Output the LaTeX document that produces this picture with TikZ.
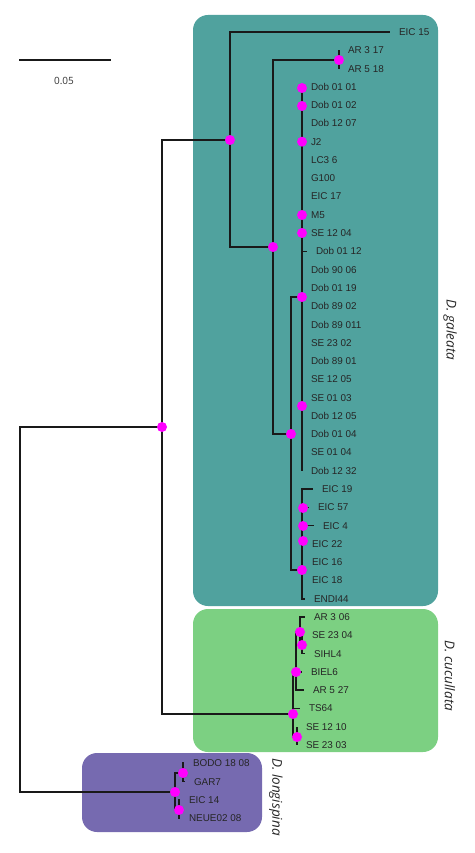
\documentclass[tikz,border=0pt]{standalone}
\usepackage{fontspec}
\setmainfont{Liberation Sans}
\newfontfamily\cladefont{Open Sans}
\definecolor{galcolor}   {RGB}{80, 162, 158}
\definecolor{cuccolor}   {RGB}{124, 208, 130}
\definecolor{loncolor}   {RGB}{118, 106, 176}
\definecolor{dotcolor}   {RGB}{255, 0, 255}
\definecolor{branchcolor}{RGB}{25, 25, 25}
\tikzset{
	cladebox/.style={
		rectangle, rounded corners=15pt,
		draw=none, inner sep=0pt
	},
	branch/.style={
		line width=1.6pt, color=branchcolor
	},
	leaf/.style={
		anchor=west, inner sep=0pt, outer xsep=9pt,
		text height=7pt, text depth=0pt,
		font=\fontsize{9.9}{11}\selectfont, text=black!85
	},
	nodedot/.style={
		circle, fill=dotcolor, inner sep=0pt, minimum size=10pt
	},
	cladelabel/.style={
		rotate=-90, font=\cladefont\itshape\fontsize{13.5}{15}\selectfont,
		text=black!85
	}
}

\begin{document}
\begin{tikzpicture}[x=1pt, y=-1pt]
		\useasboundingbox (0,0) rectangle (474,853);
		
		%% ═══════════════════════════════
		%%  CLADE BOXES
		%% ═══════════════════════════════
		\node[cladebox, fill=galcolor, minimum width=245pt,
		minimum height=591pt] (galbox) at (315.5,310.5) {};
		\node[cladebox, fill=cuccolor, minimum width=245pt,
		minimum height=143pt] (cucbox) at (315.5,680.5) {};
		\node[cladebox, fill=loncolor, minimum width=180pt,
		minimum height=79pt]  (lonbox) at (172,792.5)   {};
		
		\node[cladelabel] (galname) at (450,330) {D. galeata};
		\node[cladelabel] (cucname) at (450,676) {D. cucullata};
		\node[cladelabel] (lonname) at (276,797) {D. longispina};
		
		%% ═══════════════════════════════
		%%  SCALE BAR
		%% ═══════════════════════════════
		\coordinate (sbleft)  at (19,60);
		\coordinate (sbright) at (111,60);
		\draw[branch] (sbleft) -- (sbright);
		\node[font=\cladefont\fontsize{10}{12}\selectfont, text=black!80] (sbtext) at (64,81) {0.05};
		
		%% ═══════════════════════════════
		%%  LEAVES — D. galeata
		%% ═══════════════════════════════
		\node[leaf] (eic15)    at (390,32.0)  {EIC 15};
		\node[leaf] (ar317)    at (339,50.3)  {AR 3 17};
		\node[leaf] (ar518)    at (339,68.6)  {AR 5 18};
		\node[leaf] (dob0101)  at (302,86.8)  {Dob 01 01};
		\node[leaf] (dob0102)  at (302,105.1) {Dob 01 02};
		\node[leaf] (dob1207)  at (302,123.4) {Dob 12 07};
		\node[leaf] (jtwo)     at (302,141.7) {J2};
		\node[leaf] (lc36)     at (302,160.0) {LC3 6};
		\node[leaf] (g100)     at (302,178.2) {G100};
		\node[leaf] (eic17)    at (302,196.5) {EIC 17};
		\node[leaf] (mfive)    at (302,214.8) {M5};
		\node[leaf] (se1204)   at (302,233.1) {SE 12 04};
		\node[leaf] (dob0112)  at (307,251.4) {Dob 01 12};
		\node[leaf] (dob9006)  at (302,269.6) {Dob 90 06};
		\node[leaf] (dob0119)  at (302,287.9) {Dob 01 19};
		\node[leaf] (dob8902)  at (302,306.2) {Dob 89 02};
		\node[leaf] (dob89011) at (302,324.5) {Dob 89 011};
		\node[leaf] (se2302)   at (302,342.8) {SE 23 02};
		\node[leaf] (dob8901)  at (302,361.0) {Dob 89 01};
		\node[leaf] (se1205)   at (302,379.3) {SE 12 05};
		\node[leaf] (se0103)   at (302,397.6) {SE 01 03};
		\node[leaf] (dob1205)  at (302,415.9) {Dob 12 05};
		\node[leaf] (dob0104)  at (302,434.2) {Dob 01 04};
		\node[leaf] (se0104)   at (302,452.4) {SE 01 04};
		\node[leaf] (dob1232)  at (302,470.7) {Dob 12 32};
		\node[leaf] (eic19)    at (313,489.0) {EIC 19};
		\node[leaf] (eic57)    at (309,507.3) {EIC 57};
		\node[leaf] (eic4)     at (314,525.6) {EIC 4};
		\node[leaf] (eic22)    at (303,543.8) {EIC 22};
		\node[leaf] (eic16)    at (303,562.1) {EIC 16};
		\node[leaf] (eic18)    at (303,580.4) {EIC 18};
		\node[leaf] (endi44)   at (305,598.7) {ENDI44};
		
		%% ═══════════════════════════════
		%%  LEAVES — D. cucullata / D. longispina
		%% ═══════════════════════════════
		\node[leaf] (ar306)    at (305,617.0) {AR 3 06};
		\node[leaf] (se2304)   at (303,635.2) {SE 23 04};
		\node[leaf] (sihl4)    at (305,653.5) {SIHL4};
		\node[leaf] (biel6)    at (302,671.8) {BIEL6};
		\node[leaf] (ar527)    at (304,690.1) {AR 5 27};
		\node[leaf] (ts64)     at (300,708.4) {TS64};
		\node[leaf] (se1210)   at (297,726.6) {SE 12 10};
		\node[leaf] (se2303)   at (297,744.9) {SE 23 03};
		
		\node[leaf] (bodo1808) at (184,763.2) {BODO 18 08};
		\node[leaf] (gar7)     at (185,781.5) {GAR7};
		\node[leaf] (eic14)    at (180,799.8) {EIC 14};
		\node[leaf] (neue0208) at (180,818.0) {NEUE02 08};
		
		%% ═══════════════════════════════
		%%  INNER NODES
		%% ═══════════════════════════════
		\coordinate (root)   at (20,609);
		\coordinate (top)    at (162,427);
		\coordinate (gal)    at (230,140);
		\coordinate (galsub) at (273,247);
		\coordinate (ar)     at (339,60);
		\coordinate (dobeic) at (291,434);
		\coordinate (dob)    at (302,297);
		\coordinate (eic)    at (302,570);
		\coordinate (pA) at (302,88);  \coordinate (pB) at (302,106);
		\coordinate (pC) at (302,141.7); \coordinate (pD) at (302,215);
		\coordinate (pE) at (302,233); \coordinate (pF) at (302,406);
		\coordinate (eA) at (303,508); \coordinate (eB) at (303,526);
		\coordinate (eC) at (303,541);
		\coordinate (cuc)  at (293,714);
		\coordinate (cucA) at (296,672);
		\coordinate (cucB) at (297,737);
		\coordinate (cucC) at (300,632);
		\coordinate (cucD) at (302,645);
		\coordinate (lon)  at (175,792);
		\coordinate (lonA) at (183,773);
		\coordinate (lonB) at (179,810);
		
		%% ═══════════════════════════════
		%%  BRANCHES
		%% ═══════════════════════════════
		
		% root
		\draw[branch] (root) |- (top);
		\draw[branch] (root) |- (lon);
		\draw[branch] (top) |- (gal);
		\draw[branch] (top) |- (cuc);
		
		% D. galeata
		\draw[branch] (gal) |- (eic15.west);
		\draw[branch] (gal) |- (galsub);
		\draw[branch] (galsub) |- (ar);
		\draw[branch] (galsub) |- (dobeic);
		\draw[branch] (ar) |- (ar317.west);
		\draw[branch] (ar) |- (ar518.west);
		\draw[branch] (dobeic) |- (dob);
		\draw[branch] (dobeic) |- (eic);
		\draw[branch] (dob0101.west) -- (dob1232.west);
		\draw[branch] (dob) |- (dob0112.west);
		\draw[branch] (eic) |- (eic19.west);
		\draw[branch] (eic) |- (eic57.west);
		\draw[branch] (eic) |- (eic4.west);
		\draw[branch] (eic) |- (endi44.west);
		
		% D. cucullata
		\draw[branch] (cuc) |- (cucA);
		\draw[branch] (cuc) |- (cucB);
		\draw[branch] (cuc) |- (ts64.west);
		\draw[branch] (cucA) |- (cucC);
		\draw[branch] (cucA) |- (biel6.west);
		\draw[branch] (cucA) |- (ar527.west);
		\draw[branch] (cucC) |- (ar306.west);
		\draw[branch] (cucC) |- (cucD);
		\draw[branch] (cucD) |- (se2304.west);
		\draw[branch] (cucD) |- (sihl4.west);
		\draw[branch] (cucB) |- (se1210.west);
		\draw[branch] (cucB) |- (se2303.west);
		
		% D. longispina
		\draw[branch] (lon) |- (lonA);
		\draw[branch] (lon) |- (lonB);
		\draw[branch] (lonA) |- (bodo1808.west);
		\draw[branch] (lonA) |- (gar7.west);
		\draw[branch] (lonB) |- (eic14.west);
		\draw[branch] (lonB) |- (neue0208.west);
		
		% support dots
		\foreach \n in {top,gal,galsub,ar,dobeic,dob,eic,pA,pB,pC,pD,pE,pF,eA,eB,eC,
			cuc,cucA,cucB,cucC,cucD,lon,lonA,lonB}
		\node[nodedot] (dot-\n) at (\n) {};
	\end{tikzpicture}
\end{document}
